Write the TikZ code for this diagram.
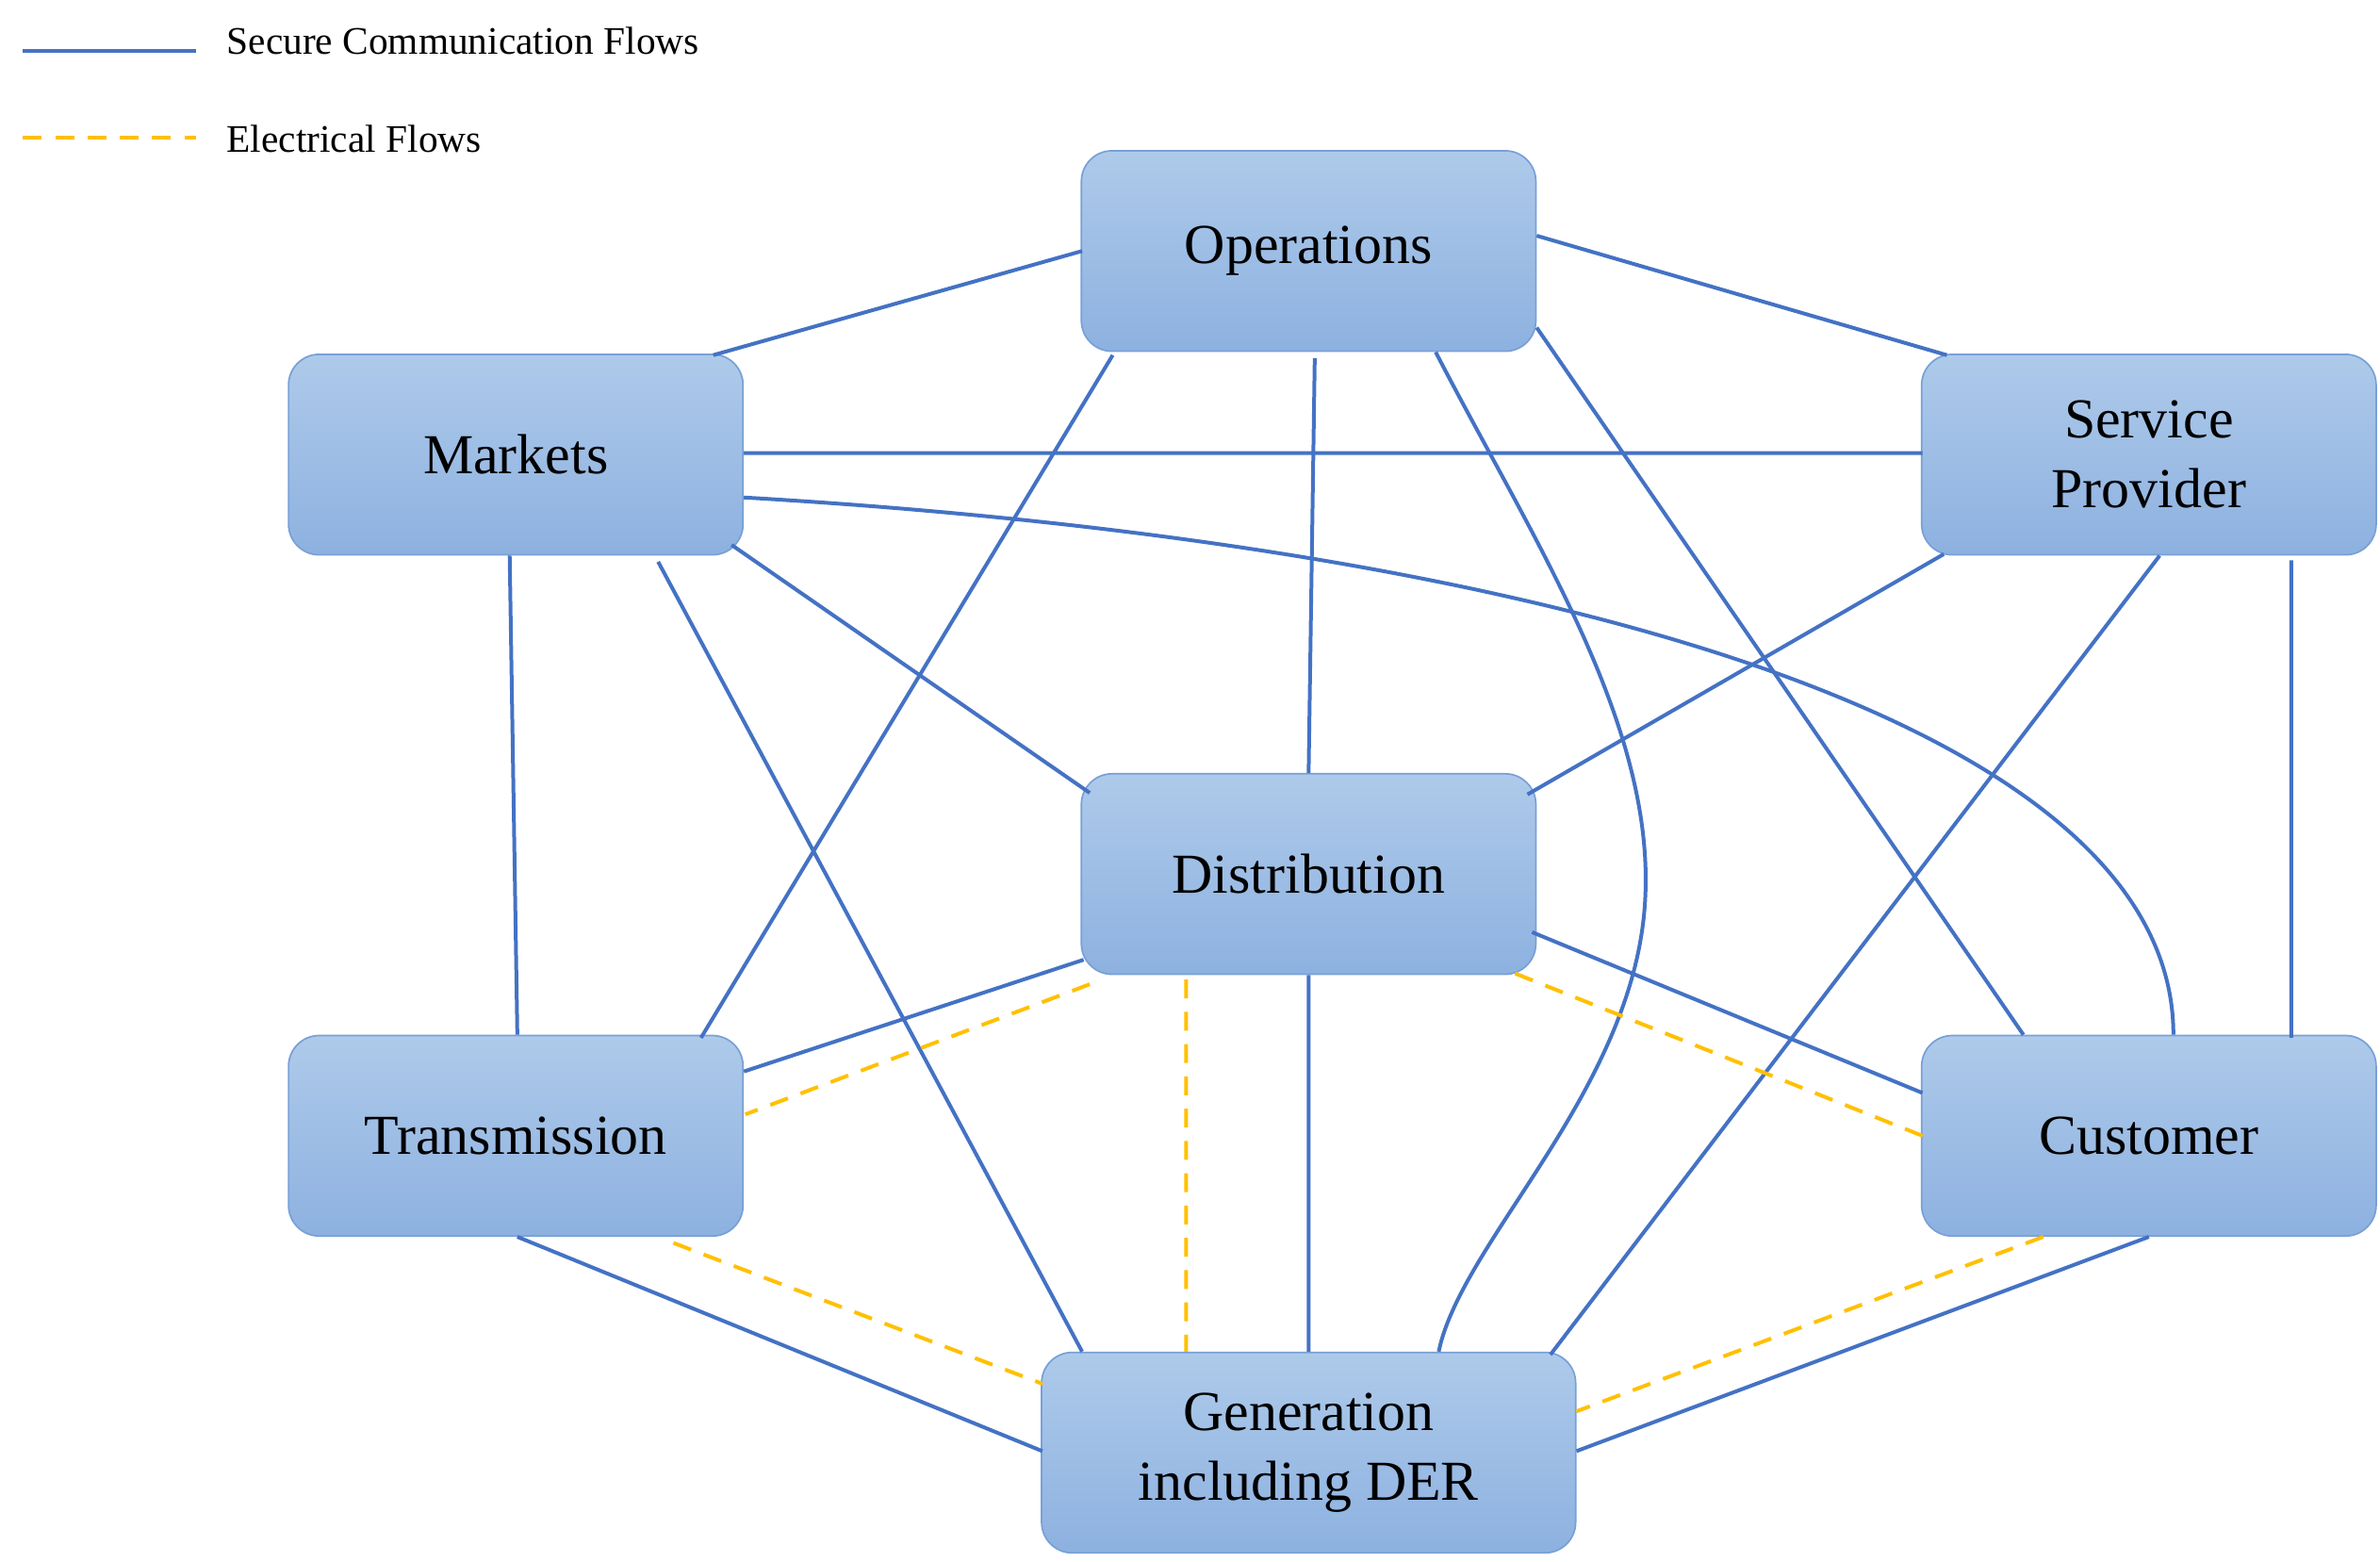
\documentclass[tikz,border=0pt]{standalone}
\usepackage{fontspec}
\setmainfont{Liberation Serif}
\begin{document}
\begin{tikzpicture}[x=0.02cm,y=-0.02cm,
 box/.style={draw={rgb,255:red,120;green,160;blue,215},line width=0.6pt,rounded corners=0.4cm,top color={rgb,255:red,174;green,202;blue,234},bottom color={rgb,255:red,141;green,177;blue,224},minimum width=5.94cm,minimum height=2.62cm,inner sep=0pt,align=center,font=\fontsize{21}{26}\selectfont},
 comm/.style={draw={rgb,255:red,68;green,114;blue,196},line width=1.4pt},
 elec/.style={draw={rgb,255:red,255;green,192;blue,0},line width=1.4pt,dash pattern=on 7pt off 5pt},
 leg/.style={anchor=west,font=\fontsize{14.5}{17}\selectfont}]
\useasboundingbox (0,0) rectangle (1555,1020);
% legend
\coordinate (l1a) at (15,33); \coordinate (l1b) at (128,33);
\coordinate (l2a) at (15,90); \coordinate (l2b) at (128,90);
\draw[comm] (l1a) -- (l1b); \draw[elec] (l2a) -- (l2b);
\node[leg] (t1) at (142,27) {Secure Communication Flows};
\node[leg] (t2) at (142,91) {Electrical Flows};
% nodes
\node[box] (ops) at (855,164) {Operations};
\node[box] (mkt) at (337,297) {Markets};
\node[box] (sp) at (1404,297) {Service\\Provider};
\node[box] (dis) at (855,571) {Distribution};
\node[box] (tra) at (337,742) {Transmission};
\node[box] (cus) at (1404,742) {Customer};
\node[box,minimum width=6.98cm] (gen) at (855,949) {Generation\\including DER};
% endpoints
\foreach \n/\x/\y in {o1/707/164,m1/466/232,o2/1004/154,s2/1272/232,o3/727/232,t3/458/678,o4/859/234,d4/855/505,o5/938/230,g5/940/883,o6/1004/214,c6/1322/676,m7/486/296,s7/1256/296,m8/486/325,c8/1420/676,m9/478/356,d9/712/518,m10/333/363,t10/338/676,m11/430/367,g11/707/883,s12/1270/362,d12/998/519,s13/1411/363,g13/1013/885,s14/1497/366,c14/1497/678,d15/708/627,t15/486/700,d16/1001/609,c16/1256/714,d17/855/637,g17/855/883,t18/338/808,g18/681/948,c19/1404/808,g19/1030/948,da/712/643,ta/487/728,db/775/640,gb/775/883,dc/990/636,cc/1256/742,td/440/812,gd/681/904,ce/1335/808,ge/1030/922}
  \coordinate (\n) at (\x,\y);
\coordinate (k5) at (1075,585);
\draw[comm] (o1)--(m1) (o2)--(s2) (o3)--(t3) (o4)--(d4) (o6)--(c6) (m7)--(s7) (m9)--(d9) (m10)--(t10) (m11)--(g11) (s12)--(d12) (s13)--(g13) (s14)--(c14) (d15)--(t15) (d16)--(c16) (d17)--(g17) (t18)--(g18) (c19)--(g19);
\draw[comm] (o5) .. controls (1000,350) and (1080,470) .. (k5) .. controls (1070,710) and (955,810) .. (g5);
\draw[comm] (m8) .. controls (1000,355) and (1420,470) .. (c8);
\draw[elec] (da)--(ta) (db)--(gb) (dc)--(cc) (td)--(gd) (ce)--(ge);
\end{tikzpicture}
\end{document}
